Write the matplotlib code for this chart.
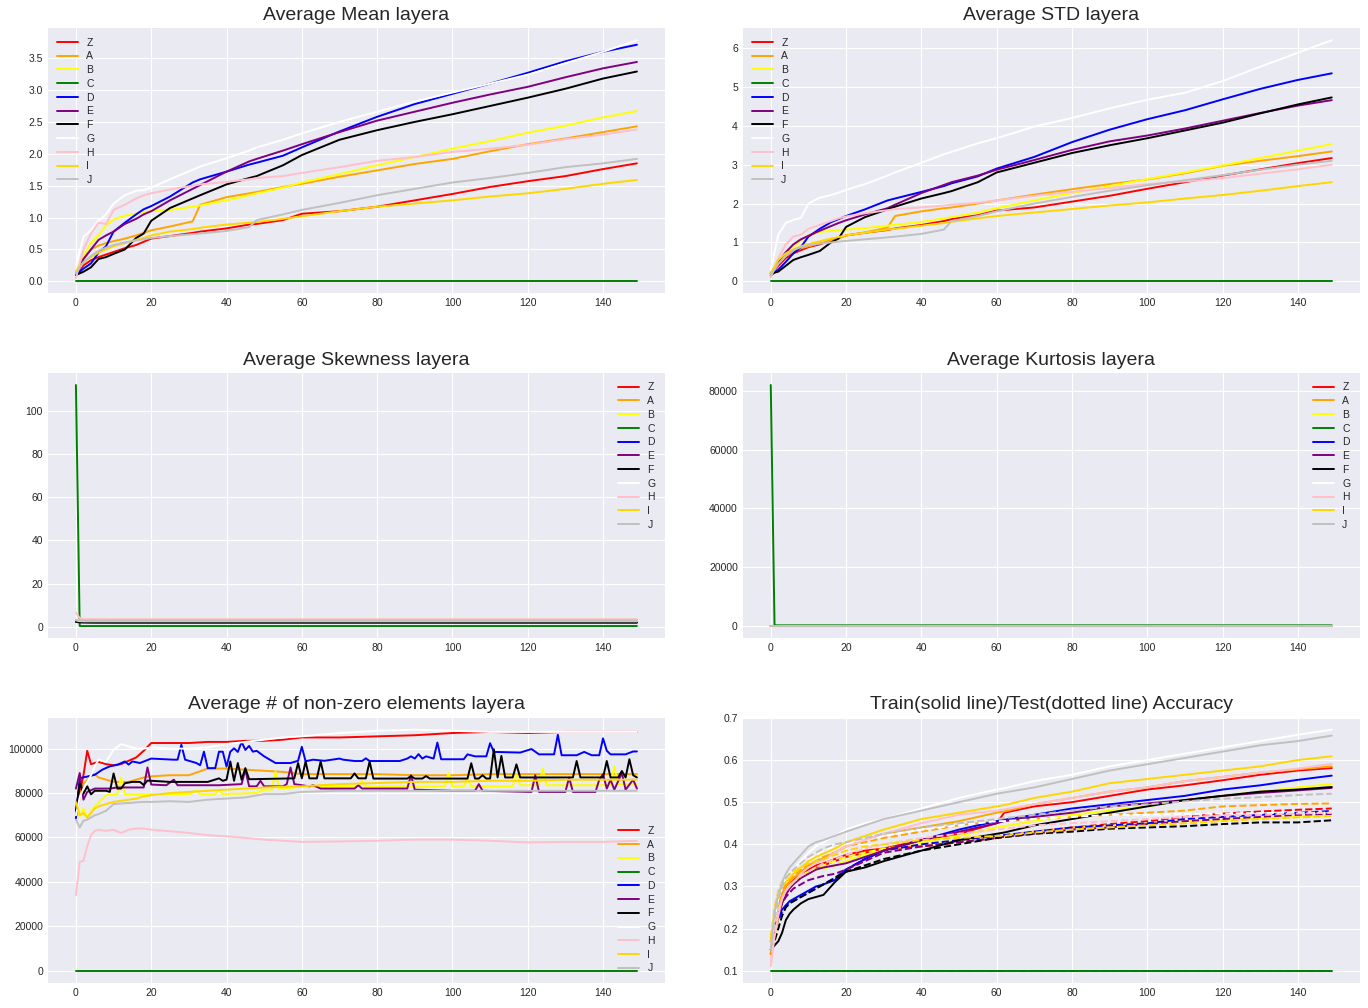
import matplotlib
matplotlib.use("Agg")
import matplotlib.pyplot as plt

plt.style.use("seaborn-v0_8-darkgrid")
plt.rcParams["font.family"] = ["Liberation Sans", "DejaVu Sans"]

labels = ["Z", "A", "B", "C", "D", "E", "F", "G", "H", "I", "J"]
colors = ["red", "orange", "yellow", "green", "blue", "purple", "black",
          "white", "pink", "gold", "silver"]

# ---- Average Mean / STD (epochs) ----
x_ms = [0, 2, 4, 6, 8, 10, 13, 16, 18, 20, 25, 31, 33, 40, 46, 48, 55, 60,
        70, 80, 90, 100, 110, 120, 130, 140, 149]

mean_Z = [0.1, 0.25, 0.33, 0.38, 0.42, 0.46, 0.52, 0.57, 0.62, 0.67, 0.71, 0.76, 0.78, 0.83, 0.89, 0.9, 0.96, 1.06, 1.1, 1.17, 1.27, 1.37, 1.48, 1.57, 1.65, 1.76, 1.85]
mean_A = [0.1, 0.35, 0.5, 0.56, 0.6, 0.63, 0.67, 0.72, 0.76, 0.8, 0.86, 0.94, 1.2, 1.32, 1.38, 1.4, 1.48, 1.53, 1.64, 1.74, 1.84, 1.92, 2.04, 2.15, 2.24, 2.34, 2.43]
mean_B = [0.15, 0.4, 0.6, 0.72, 0.88, 0.97, 1.03, 1.06, 1.08, 1.1, 1.12, 1.17, 1.19, 1.27, 1.35, 1.38, 1.47, 1.55, 1.68, 1.82, 1.95, 2.08, 2.2, 2.33, 2.44, 2.57, 2.67]
mean_C = [0.0] * 27
mean_D = [0.1, 0.2, 0.28, 0.45, 0.55, 0.78, 0.92, 1.05, 1.13, 1.18, 1.33, 1.55, 1.6, 1.72, 1.83, 1.86, 1.97, 2.1, 2.35, 2.58, 2.78, 2.94, 3.1, 3.27, 3.45, 3.6, 3.71]
mean_E = [0.12, 0.35, 0.5, 0.65, 0.72, 0.78, 0.9, 0.98, 1.05, 1.1, 1.27, 1.45, 1.51, 1.72, 1.88, 1.92, 2.05, 2.15, 2.34, 2.52, 2.66, 2.8, 2.93, 3.05, 3.2, 3.34, 3.44]
mean_F = [0.1, 0.15, 0.22, 0.35, 0.38, 0.43, 0.5, 0.68, 0.75, 0.95, 1.15, 1.3, 1.35, 1.52, 1.62, 1.65, 1.82, 1.98, 2.22, 2.37, 2.5, 2.62, 2.75, 2.88, 3.02, 3.18, 3.29]
mean_G = [0.25, 0.7, 0.8, 0.95, 1.05, 1.22, 1.35, 1.42, 1.43, 1.47, 1.6, 1.75, 1.8, 1.93, 2.05, 2.1, 2.22, 2.32, 2.5, 2.66, 2.82, 2.96, 3.1, 3.24, 3.42, 3.6, 3.78]
mean_H = [0.05, 0.5, 0.75, 0.92, 0.9, 1.12, 1.2, 1.3, 1.35, 1.38, 1.44, 1.5, 1.52, 1.56, 1.6, 1.62, 1.65, 1.7, 1.79, 1.89, 1.95, 2.03, 2.08, 2.14, 2.23, 2.3, 2.38]
mean_I = [0.15, 0.3, 0.38, 0.45, 0.5, 0.55, 0.6, 0.65, 0.68, 0.72, 0.78, 0.82, 0.84, 0.89, 0.92, 0.93, 0.98, 1.02, 1.1, 1.17, 1.22, 1.27, 1.33, 1.38, 1.45, 1.53, 1.59]
mean_J = [0.12, 0.3, 0.4, 0.48, 0.53, 0.57, 0.61, 0.64, 0.66, 0.68, 0.71, 0.74, 0.75, 0.79, 0.85, 0.96, 1.05, 1.12, 1.23, 1.35, 1.45, 1.55, 1.62, 1.7, 1.79, 1.85, 1.92]

std_Z = [0.15, 0.4, 0.6, 0.72, 0.8, 0.88, 0.95, 1.05, 1.12, 1.18, 1.25, 1.32, 1.36, 1.45, 1.55, 1.6, 1.7, 1.82, 1.9, 2.05, 2.2, 2.38, 2.55, 2.72, 2.88, 3.04, 3.17]
std_A = [0.15, 0.45, 0.65, 0.78, 0.85, 0.9, 0.98, 1.05, 1.1, 1.18, 1.26, 1.38, 1.68, 1.8, 1.88, 1.9, 2.0, 2.08, 2.23, 2.37, 2.5, 2.62, 2.78, 2.97, 3.1, 3.22, 3.34]
std_B = [0.2, 0.5, 0.72, 0.9, 1.05, 1.18, 1.27, 1.3, 1.32, 1.33, 1.37, 1.43, 1.45, 1.53, 1.62, 1.65, 1.77, 1.88, 2.08, 2.27, 2.45, 2.63, 2.8, 2.98, 3.17, 3.36, 3.53]
std_C = [0.0] * 27
std_D = [0.15, 0.3, 0.5, 0.72, 0.88, 1.15, 1.35, 1.52, 1.6, 1.68, 1.85, 2.08, 2.13, 2.3, 2.45, 2.52, 2.7, 2.9, 3.2, 3.58, 3.9, 4.17, 4.4, 4.68, 4.95, 5.18, 5.35]
std_E = [0.2, 0.5, 0.75, 0.95, 1.08, 1.17, 1.3, 1.42, 1.5, 1.57, 1.72, 1.88, 1.97, 2.27, 2.48, 2.55, 2.72, 2.87, 3.12, 3.38, 3.6, 3.75, 3.93, 4.13, 4.33, 4.52, 4.66]
std_F = [0.2, 0.25, 0.4, 0.55, 0.62, 0.68, 0.78, 1.0, 1.1, 1.4, 1.65, 1.85, 1.92, 2.13, 2.27, 2.32, 2.55, 2.8, 3.05, 3.3, 3.5, 3.68, 3.88, 4.08, 4.32, 4.55, 4.73]
std_G = [0.3, 1.2, 1.5, 1.58, 1.63, 2.0, 2.15, 2.22, 2.28, 2.35, 2.5, 2.72, 2.8, 3.05, 3.27, 3.33, 3.55, 3.68, 3.98, 4.2, 4.45, 4.67, 4.85, 5.15, 5.52, 5.88, 6.2]
std_H = [0.1, 0.6, 0.95, 1.15, 1.2, 1.35, 1.45, 1.55, 1.62, 1.67, 1.75, 1.83, 1.86, 1.9, 1.95, 1.97, 2.02, 2.08, 2.2, 2.3, 2.4, 2.5, 2.57, 2.65, 2.77, 2.88, 3.0]
std_I = [0.2, 0.55, 0.72, 0.82, 0.9, 0.96, 1.03, 1.1, 1.14, 1.18, 1.25, 1.33, 1.35, 1.43, 1.5, 1.53, 1.62, 1.68, 1.77, 1.86, 1.95, 2.03, 2.13, 2.22, 2.33, 2.45, 2.55]
std_J = [0.15, 0.45, 0.65, 0.8, 0.88, 0.93, 0.97, 1.0, 1.02, 1.04, 1.08, 1.13, 1.15, 1.22, 1.33, 1.55, 1.68, 1.8, 2.0, 2.17, 2.33, 2.47, 2.6, 2.73, 2.87, 3.0, 3.1]

# ---- Skewness / Kurtosis ----
x_sk = [0, 1, 2, 3, 5, 10, 20, 40, 60, 80, 100, 120, 140, 149]

skew_Z = [2.8, 3.0, 2.9, 2.9, 2.9, 2.9, 2.9, 2.9, 2.9, 2.9, 2.9, 2.9, 2.9, 2.9]
skew_A = [3.0, 3.2, 3.2, 3.2, 3.2, 3.2, 3.2, 3.2, 3.2, 3.2, 3.2, 3.2, 3.2, 3.2]
skew_B = [2.5, 3.0, 3.0, 3.0, 3.0, 3.0, 3.0, 3.0, 3.0, 3.0, 3.0, 3.0, 3.0, 3.0]
skew_C = [112.0, 0.3, 0.3, 0.3, 0.3, 0.3, 0.3, 0.3, 0.3, 0.3, 0.3, 0.3, 0.3, 0.3]
skew_D = [2.5, 2.3, 2.2, 2.2, 2.2, 2.1, 2.1, 2.1, 2.1, 2.1, 2.1, 2.1, 2.1, 2.1]
skew_E = [2.8, 2.4, 2.2, 2.1, 2.0, 2.0, 2.0, 2.0, 2.0, 2.0, 2.0, 2.0, 2.0, 2.0]
skew_F = [2.2, 2.0, 1.9, 1.9, 1.9, 1.9, 1.9, 1.9, 1.9, 1.9, 1.9, 1.9, 1.9, 1.9]
skew_G = [3.0, 2.6, 2.5, 2.5, 2.5, 2.5, 2.5, 2.5, 2.5, 2.5, 2.5, 2.5, 2.5, 2.5]
skew_H = [6.5, 4.0, 3.5, 3.4, 3.4, 3.4, 3.4, 3.4, 3.4, 3.4, 3.4, 3.4, 3.4, 3.4]
skew_I = [3.2, 3.1, 3.1, 3.1, 3.1, 3.1, 3.1, 3.1, 3.1, 3.1, 3.1, 3.1, 3.1, 3.1]
skew_J = [3.0, 2.8, 2.7, 2.7, 2.7, 2.7, 2.7, 2.7, 2.7, 2.7, 2.7, 2.7, 2.7, 2.7]

kurt_Z = [25, 20, 20, 20, 20, 20, 20, 20, 20, 20, 20, 20, 20, 20]
kurt_A = [30, 25, 25, 25, 25, 25, 25, 25, 25, 25, 25, 25, 25, 25]
kurt_B = [20, 22, 22, 22, 22, 22, 22, 22, 22, 22, 22, 22, 22, 22]
kurt_C = [82000, 300, 250, 250, 250, 250, 250, 250, 250, 250, 250, 250, 250, 250]
kurt_D = [20, 15, 15, 15, 15, 15, 15, 15, 15, 15, 15, 15, 15, 15]
kurt_E = [25, 15, 14, 14, 14, 14, 14, 14, 14, 14, 14, 14, 14, 14]
kurt_F = [18, 13, 12, 12, 12, 12, 12, 12, 12, 12, 12, 12, 12, 12]
kurt_G = [30, 18, 18, 18, 18, 18, 18, 18, 18, 18, 18, 18, 18, 18]
kurt_H = [90, 40, 30, 30, 30, 30, 30, 30, 30, 30, 30, 30, 30, 30]
kurt_I = [28, 26, 26, 26, 26, 26, 26, 26, 26, 26, 26, 26, 26, 26]
kurt_J = [26, 22, 22, 22, 22, 22, 22, 22, 22, 22, 22, 22, 22, 22]

# ---- non-zero elements (thousands) ----
x_nz = [0, 1, 2, 3, 4, 5, 6, 8, 10, 12, 14, 16, 18, 20, 25, 30, 35, 40, 45,
        50, 55, 60, 70, 80, 90, 100, 110, 120, 130, 140, 149]

nz_Z = [72, 80, 88, 99, 93, 93.5, 94, 93, 92.5, 93, 94.5, 96, 99, 102.5, 102.5, 102.5, 103, 103, 103.5, 103.5, 104, 105, 105, 105.5, 106, 107, 107.5, 107, 107.5, 107.5, 107.5]
nz_A = [69, 78, 84, 86, 88, 88.5, 87, 86, 85, 85, 85, 86, 87, 87.5, 88, 88, 91, 91, 90.5, 90, 89.5, 88.5, 88.5, 88.5, 88, 88, 88.5, 88.5, 88.5, 88.5, 88.5]
nz_C = [0] * 31
nz_G = [70, 78, 82, 85, 88, 92, 95, 94, 99.5, 102, 101, 100, 100, 100.5, 100, 100, 100.5, 102, 103, 104, 105, 105.5, 107, 108, 108.5, 108, 107.5, 107.5, 107.5, 107.5, 107.5]
nz_H = [34, 49, 49.5, 56, 61, 63, 63.5, 63, 63.5, 62, 63.5, 64, 64, 63.5, 62.8, 62, 61, 60.5, 59.8, 59, 58.5, 58, 58.2, 58.5, 59, 59, 58.5, 57.8, 58, 58, 58.5]
nz_I = [76, 70, 71, 69, 71, 73, 74, 75, 76, 76.5, 77, 77.5, 78.5, 79, 80, 80.5, 81, 81.5, 82, 82.5, 82.8, 83, 84, 84.5, 85, 85, 85.5, 85.5, 86, 86, 86]
nz_J = [68, 64.5, 67.5, 68, 69, 70, 70.5, 72, 75, 75.3, 75.5, 75.8, 76, 76, 76.3, 76, 77, 77.5, 78, 79.5, 79.5, 80.5, 81, 81, 81, 81, 81, 81, 81, 81, 81]

# spiky series as (epoch, thousands) pairs
nz_B = [(0, 74), (1, 69.5), (2, 73), (3, 68.8), (5, 74), (8, 79), (11, 79.5), (12, 87), (13, 79.5),
        (30, 79.5), (32, 81), (33, 79.5), (37, 79.5), (38, 81.5), (39, 79.5), (48, 80), (50, 81.5),
        (52, 81.5), (53, 89.5), (54, 82), (58, 82.5), (60, 83), (75, 83), (76, 85.5), (77, 83),
        (98, 83), (99, 89), (100, 83), (103, 83), (104, 87), (105, 83), (116, 83), (117, 88.5),
        (118, 83.5), (123, 83.5), (124, 91), (125, 83.5), (142, 83.5), (143, 92), (144, 84), (149, 84)]
nz_D = [(0, 68.6), (1, 86.7), (3, 87.4), (5, 88.2), (7, 90.5), (9, 92), (11, 92.7), (13, 94.2),
        (14, 92.8), (15, 94.2), (17, 93.5), (20, 95.5), (26, 95), (27, 95), (28, 101.7), (29, 95),
        (32, 93.5), (33, 92.5), (34, 98.6), (35, 91.2), (37, 91.2), (38, 98.6), (39, 98.6), (40, 91.9),
        (41, 98.6), (42, 100.1), (43, 98.5), (44, 103), (45, 99.4), (46, 101.2), (47, 98.6), (48, 99),
        (50, 96.5), (53, 93.5), (57, 93.5), (59, 94.5), (60, 100.8), (61, 94.3), (63, 95), (66, 94.5),
        (70, 95.5), (71, 95), (74, 94.4), (76, 94.4), (77, 95.6), (78, 94.4), (80, 94.4), (86, 94.4),
        (88, 95.5), (89, 96.5), (90, 95.5), (91, 97.5), (92, 95.5), (93, 96.5), (95, 95.5), (96, 102.7),
        (97, 95.2), (103, 95.2), (104, 97.4), (106, 96.5), (109, 96.5), (110, 102.4), (111, 98.5),
        (118, 98.2), (121, 99.8), (123, 97.4), (127, 97.4), (128, 106.2), (129, 97), (133, 97),
        (135, 98.5), (137, 97), (139, 97), (140, 104.6), (141, 99), (142, 97.4), (146, 97.4),
        (148, 98.7), (149, 98.7)]
nz_E = [(0, 82), (1, 89), (2, 77), (3, 80.5), (5, 82), (9, 82), (11, 82.5), (18, 82.5), (19, 91.5),
        (20, 83.8), (24, 83.5), (26, 86), (27, 83.5), (38, 83.5), (44, 84), (45, 90.5), (46, 83),
        (48, 83), (49, 85.5), (50, 83), (55, 83), (56, 84), (57, 91.5), (58, 84), (62, 83), (63, 83.5),
        (65, 82), (74, 82), (75, 83.5), (76, 82), (88, 82), (89, 88), (90, 81.5), (100, 81), (106, 81),
        (107, 84), (108, 81), (121, 80.5), (122, 88), (123, 80.5), (130, 80.5), (131, 87), (132, 80.5),
        (138, 80.5), (139, 86), (140, 88.5), (141, 82), (142, 86), (143, 81.5), (145, 89), (146, 81.5),
        (148, 86), (149, 82)]
nz_F = [(0, 72), (1, 84.5), (2, 79.7), (3, 83), (4, 79.4), (5, 81), (8, 81), (9, 80.5), (10, 88.8),
        (11, 82), (12, 82), (13, 84.4), (15, 85), (17, 85), (18, 83.6), (19, 85.6), (25, 85), (35, 85),
        (38, 86.6), (39, 85.5), (40, 86), (41, 94.2), (42, 85.5), (43, 93.5), (44, 86), (45, 91.2),
        (46, 86.2), (58, 86.6), (59, 93.5), (60, 86.6), (61, 94.2), (62, 86.6), (64, 86.6), (65, 94.2),
        (66, 86.6), (73, 86.6), (74, 88.8), (75, 86.6), (77, 86.6), (78, 94.2), (79, 86.5), (88, 86.5),
        (89, 87.6), (90, 86.5), (92, 86.5), (93, 87.6), (94, 86.5), (104, 86.5), (105, 93.4), (106, 86.5),
        (107, 86.5), (108, 88), (109, 86.5), (110, 86.5), (111, 99.7), (112, 87), (113, 96.7), (114, 87),
        (116, 87), (117, 92.9), (118, 87), (132, 87), (133, 94.4), (134, 87), (140, 87), (141, 94.4),
        (142, 87), (144, 87), (145, 89.9), (146, 87), (147, 95.2), (148, 88), (149, 87)]

# ---- Accuracy ----
x_acc = [0, 1, 2, 3, 4, 5, 6, 8, 10, 12, 14, 17, 20, 25, 30, 40, 50, 60, 62,
         70, 80, 90, 100, 110, 120, 130, 140, 149]

train_Z = [0.14, 0.2, 0.25, 0.28, 0.3, 0.31, 0.315, 0.33, 0.34, 0.35, 0.355, 0.365, 0.375, 0.385, 0.39, 0.41, 0.425, 0.45, 0.475, 0.49, 0.5, 0.515, 0.53, 0.54, 0.552, 0.565, 0.575, 0.581]
train_A = [0.14, 0.2, 0.25, 0.28, 0.3, 0.31, 0.32, 0.335, 0.35, 0.36, 0.367, 0.38, 0.395, 0.41, 0.425, 0.44, 0.455, 0.475, 0.478, 0.495, 0.51, 0.525, 0.535, 0.55, 0.56, 0.57, 0.578, 0.585]
train_B = [0.15, 0.18, 0.22, 0.26, 0.28, 0.3, 0.31, 0.325, 0.335, 0.34, 0.343, 0.35, 0.36, 0.375, 0.385, 0.405, 0.42, 0.44, 0.443, 0.455, 0.47, 0.48, 0.49, 0.505, 0.515, 0.525, 0.535, 0.543]
train_C = [0.1] * 28
train_D = [0.17, 0.2, 0.23, 0.245, 0.255, 0.265, 0.27, 0.28, 0.29, 0.3, 0.305, 0.315, 0.34, 0.365, 0.385, 0.41, 0.435, 0.455, 0.458, 0.47, 0.485, 0.495, 0.505, 0.515, 0.53, 0.54, 0.553, 0.563]
train_E = [0.15, 0.19, 0.23, 0.26, 0.28, 0.295, 0.305, 0.32, 0.33, 0.34, 0.345, 0.35, 0.355, 0.37, 0.385, 0.41, 0.43, 0.45, 0.455, 0.465, 0.475, 0.49, 0.497, 0.505, 0.515, 0.522, 0.528, 0.534]
train_F = [0.15, 0.16, 0.17, 0.19, 0.22, 0.235, 0.245, 0.26, 0.27, 0.275, 0.28, 0.31, 0.335, 0.345, 0.36, 0.385, 0.41, 0.425, 0.428, 0.445, 0.46, 0.475, 0.49, 0.505, 0.515, 0.525, 0.53, 0.536]
train_G = [0.15, 0.22, 0.27, 0.3, 0.32, 0.33, 0.34, 0.36, 0.38, 0.395, 0.405, 0.42, 0.435, 0.45, 0.46, 0.485, 0.51, 0.53, 0.533, 0.55, 0.565, 0.585, 0.6, 0.615, 0.63, 0.645, 0.66, 0.672]
train_H = [0.11, 0.18, 0.23, 0.27, 0.29, 0.3, 0.31, 0.33, 0.345, 0.355, 0.362, 0.38, 0.395, 0.41, 0.425, 0.45, 0.47, 0.48, 0.483, 0.495, 0.51, 0.525, 0.535, 0.55, 0.56, 0.57, 0.58, 0.591]
train_I = [0.17, 0.24, 0.28, 0.3, 0.31, 0.32, 0.33, 0.345, 0.36, 0.37, 0.378, 0.39, 0.405, 0.42, 0.435, 0.46, 0.475, 0.49, 0.493, 0.51, 0.525, 0.545, 0.555, 0.565, 0.575, 0.585, 0.6, 0.609]
train_J = [0.15, 0.24, 0.28, 0.31, 0.33, 0.345, 0.355, 0.375, 0.395, 0.405, 0.41, 0.42, 0.43, 0.445, 0.46, 0.48, 0.5, 0.52, 0.523, 0.535, 0.555, 0.575, 0.59, 0.605, 0.62, 0.635, 0.645, 0.658]

test_Z = [0.14, 0.2, 0.24, 0.27, 0.29, 0.3, 0.31, 0.325, 0.335, 0.345, 0.35, 0.36, 0.37, 0.38, 0.39, 0.395, 0.405, 0.415, 0.42, 0.43, 0.44, 0.448, 0.455, 0.465, 0.473, 0.478, 0.482, 0.485]
test_A = [0.15, 0.23, 0.27, 0.29, 0.305, 0.315, 0.325, 0.34, 0.35, 0.36, 0.37, 0.38, 0.395, 0.405, 0.415, 0.43, 0.445, 0.455, 0.455, 0.46, 0.465, 0.47, 0.475, 0.48, 0.49, 0.493, 0.496, 0.497]
test_B = [0.15, 0.2, 0.24, 0.27, 0.29, 0.3, 0.31, 0.325, 0.335, 0.345, 0.35, 0.36, 0.37, 0.38, 0.39, 0.4, 0.41, 0.42, 0.42, 0.43, 0.44, 0.445, 0.45, 0.455, 0.458, 0.462, 0.466, 0.469]
test_C = [0.1] * 28
test_D = [0.18, 0.2, 0.22, 0.24, 0.255, 0.26, 0.265, 0.275, 0.285, 0.295, 0.305, 0.32, 0.34, 0.365, 0.385, 0.4, 0.41, 0.42, 0.422, 0.43, 0.44, 0.445, 0.45, 0.46, 0.465, 0.47, 0.475, 0.479]
test_E = [0.15, 0.19, 0.23, 0.26, 0.275, 0.285, 0.295, 0.305, 0.315, 0.32, 0.325, 0.33, 0.34, 0.36, 0.38, 0.395, 0.405, 0.415, 0.418, 0.425, 0.435, 0.44, 0.448, 0.455, 0.46, 0.465, 0.47, 0.472]
test_F = [0.15, 0.17, 0.2, 0.23, 0.25, 0.26, 0.265, 0.275, 0.285, 0.295, 0.305, 0.32, 0.335, 0.35, 0.365, 0.385, 0.4, 0.415, 0.417, 0.425, 0.43, 0.437, 0.44, 0.443, 0.448, 0.452, 0.452, 0.457]
test_G = [0.15, 0.22, 0.27, 0.3, 0.32, 0.33, 0.34, 0.355, 0.365, 0.375, 0.385, 0.395, 0.4, 0.41, 0.42, 0.435, 0.445, 0.455, 0.455, 0.46, 0.465, 0.47, 0.47, 0.472, 0.473, 0.474, 0.475, 0.475]
test_H = [0.12, 0.19, 0.24, 0.27, 0.29, 0.3, 0.31, 0.325, 0.335, 0.345, 0.355, 0.365, 0.375, 0.39, 0.4, 0.415, 0.425, 0.435, 0.437, 0.445, 0.45, 0.455, 0.46, 0.465, 0.468, 0.47, 0.473, 0.475]
test_I = [0.18, 0.25, 0.29, 0.31, 0.32, 0.33, 0.335, 0.345, 0.355, 0.36, 0.365, 0.375, 0.385, 0.395, 0.4, 0.41, 0.415, 0.42, 0.42, 0.428, 0.435, 0.44, 0.445, 0.45, 0.455, 0.46, 0.464, 0.467]
test_J = [0.15, 0.22, 0.27, 0.3, 0.32, 0.33, 0.34, 0.355, 0.37, 0.38, 0.39, 0.4, 0.405, 0.415, 0.425, 0.44, 0.45, 0.46, 0.462, 0.47, 0.48, 0.49, 0.495, 0.502, 0.508, 0.512, 0.517, 0.52]

mean_all = [mean_Z, mean_A, mean_B, mean_C, mean_D, mean_E, mean_F, mean_G, mean_H, mean_I, mean_J]
std_all = [std_Z, std_A, std_B, std_C, std_D, std_E, std_F, std_G, std_H, std_I, std_J]
skew_all = [skew_Z, skew_A, skew_B, skew_C, skew_D, skew_E, skew_F, skew_G, skew_H, skew_I, skew_J]
kurt_all = [kurt_Z, kurt_A, kurt_B, kurt_C, kurt_D, kurt_E, kurt_F, kurt_G, kurt_H, kurt_I, kurt_J]
train_all = [train_Z, train_A, train_B, train_C, train_D, train_E, train_F, train_G, train_H, train_I, train_J]
test_all = [test_Z, test_A, test_B, test_C, test_D, test_E, test_F, test_G, test_H, test_I, test_J]


def pairs_xy(p):
    return [a for a, b in p], [b * 1000 for a, b in p]


nz_all = []
for s in [nz_Z, nz_A, nz_B, nz_C, nz_D, nz_E, nz_F, nz_G, nz_H, nz_I, nz_J]:
    if isinstance(s[0], tuple):
        nz_all.append(pairs_xy(s))
    else:
        nz_all.append((x_nz, [v * 1000 for v in s]))

LW = 1.4
fig, axes = plt.subplots(3, 2, figsize=(13.68, 10.08), dpi=100)
fig.subplots_adjust(left=0.035, right=0.994, top=0.972, bottom=0.025,
                    wspace=0.126, hspace=0.30)


def finish(ax, title, loc=None):
    ax.set_title(title, fontsize=14)
    ax.tick_params(labelsize=7.5)
    if loc:
        ax.legend(loc=loc, fontsize=7.5, handlelength=2.0, labelspacing=0.36)


ax = axes[0, 0]
for vals, lab, c in zip(mean_all, labels, colors):
    ax.plot(x_ms, vals, color=c, label=lab, lw=LW)
finish(ax, "Average Mean layera", "upper left")

ax = axes[0, 1]
for vals, lab, c in zip(std_all, labels, colors):
    ax.plot(x_ms, vals, color=c, label=lab, lw=LW)
finish(ax, "Average STD layera", "upper left")

ax = axes[1, 0]
for vals, lab, c in zip(skew_all, labels, colors):
    ax.plot(x_sk, vals, color=c, label=lab, lw=LW)
finish(ax, "Average Skewness layera", "upper right")

ax = axes[1, 1]
for vals, lab, c in zip(kurt_all, labels, colors):
    ax.plot(x_sk, vals, color=c, label=lab, lw=LW)
finish(ax, "Average Kurtosis layera", "upper right")

ax = axes[2, 0]
for (xs, ys), lab, c in zip(nz_all, labels, colors):
    ax.plot(xs, ys, color=c, label=lab, lw=LW)
finish(ax, "Average # of non-zero elements layera", "lower right")

ax = axes[2, 1]
for tr, te, c in zip(train_all, test_all, colors):
    ax.plot(x_acc, tr, color=c, lw=LW)
    ax.plot(x_acc, te, color=c, lw=LW, ls="--")
finish(ax, "Train(solid line)/Test(dotted line) Accuracy")

fig.savefig("out.png", dpi=100)
